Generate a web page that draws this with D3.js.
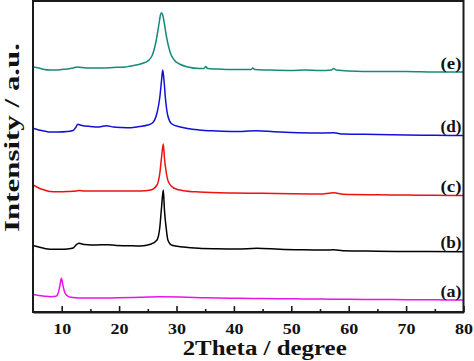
<!DOCTYPE html>
<html>
<head>
<meta charset="utf-8">
<script src="https://cdn.jsdelivr.net/npm/d3@7/dist/d3.min.js"></script>
<style>
  html, body { margin: 0; padding: 0; background: #fff; }
  svg { display: block; }
  text { font-family: "Liberation Serif", "Times New Roman", serif; font-weight: bold; fill: #111; }
</style>
</head>
<body>
<svg id="chart" width="474" height="361"></svg>
<script>
// ---- data (2Theta in degrees, intensity in arbitrary units, curves already offset) ----
const seriesNames = ["(a)", "(b)", "(c)", "(d)", "(e)"];
const seriesColors = ["#ea12ea", "#000000", "#f01010", "#1010d8", "#16897b"];

const seriesA = [[5,17.5],[6,16.5],[7,15.8],[8,15.3],[9.0,15.7],[9.4,19],[9.7,27],[9.95,33.7],[10.2,27],[10.5,20],[10.9,16.5],[11.6,14.7],[13,14],[16.8,14],[20,14.2],[23.7,14.7],[27,15.2],[30.7,15],[35,14.3],[40.6,13.7],[45,13.4],[50,13.2],[55,13],[60,12.7],[65,12.5],[70,12.3],[75,12.2],[80,12]];

const seriesB = [[5,66.5],[6,65],[7,63.5],[8,62.8],[9.8,62.7],[11,63],[12,64],[12.5,67],[13,68.7],[14,67.5],[16,67],[18,67.3],[19.5,66.5],[21.5,66.3],[23.7,66],[25.5,67.7],[26.6,72],[27.1,85],[27.4,105],[27.7,122],[27.9,102],[28.2,84],[28.5,72],[29.2,66.7],[31.2,65],[33.9,63.7],[37,63.2],[40.6,63],[44,63.7],[48,62.7],[52,62.2],[55.5,62],[57.4,62.2],[59,61.2],[65,60.8],[70,60.5],[80,60.3]];

const seriesC = [[5,127],[6,124],[7,122],[8,120.5],[9.3,120.3],[11,120.5],[12.5,121],[13,121.5],[14,121],[17,121],[20,121],[23.7,121],[25.5,122],[26.6,127],[27.1,139],[27.4,155],[27.7,168],[27.9,154],[28.2,140],[28.6,130],[29.5,124],[31.2,121.3],[34,120],[40,119],[45,118.7],[50,118.2],[55,118],[57.4,119.2],[59,117.7],[65,117.2],[70,117],[75,116.7],[80,116.5]];

const seriesD = [[5,183.7],[6,182],[7,181],[8,180],[9.3,180],[11,180.5],[12,181.5],[12.5,185],[12.8,187.7],[13.5,186.5],[15,185.5],[16.5,185],[17.8,186.3],[19,185],[20.5,184.5],[22,184.3],[23.5,185.5],[25,187],[25.8,189],[26.6,199],[27.1,215],[27.4,232],[27.6,242],[27.8,233],[28.1,212],[28.5,196],[29.2,188],[30.7,185],[33.9,182],[37,181],[40,180.5],[44,181.2],[47,180.2],[50,179.5],[54,179],[57.4,179.2],[59,178],[65,177.5],[70,177],[75,176.7],[80,176.5]];

const seriesE = [[5,245],[6,244],[7,242.5],[8,242],[9,242],[10,242.5],[11,243],[12,244],[12.7,245],[13.5,244.5],[15,244],[17,244],[19,244.5],[21,245],[22,246],[23,247],[24,248.5],[25,251],[25.8,257],[26.3,267],[26.7,279],[27.0,290],[27.2,297],[27.4,299.3],[27.6,297],[27.9,288],[28.2,277],[28.6,266],[29.0,258],[29.6,252],[30.5,248],[32,245],[34,243.5],[34.8,243.5],[35.1,245.5],[35.4,243.5],[37,243],[40,242.5],[43,242.5],[43.3,244],[43.6,242.5],[46,242],[50,241.5],[52.4,242],[55,241.5],[57,242],[57.4,243.5],[57.8,242],[60,241],[65,240.5],[70,240.5],[75,240],[80,240]];

const seriesData = [seriesA, seriesB, seriesC, seriesD, seriesE];
const xMajorTicks = [10, 20, 30, 40, 50, 60, 70, 80];
const xMinorTicks = [15, 25, 35, 45, 55, 65, 75];
const xTitle = "2Theta / degree";
const yTitle = "Intensity / a.u.";

// ---- layout ----
const svg = d3.select("#chart");
const L = 33, R = 463.5, T = 1, B = 312;
const x = d3.scaleLinear().domain([5, 80]).range([L, R]);
const y = d3.scaleLinear().domain([0, 311]).range([B, T]);

const line = d3.line().x(d => x(d[0])).y(d => y(d[1])).curve(d3.curveMonotoneX);

const plot = svg.append("g");
plot.append("defs").append("clipPath").attr("id", "clip")
  .append("rect").attr("x", L).attr("y", T).attr("width", R - L).attr("height", B - T);

seriesData.forEach((s, i) => {
  plot.append("path")
    .attr("d", line(s))
    .attr("fill", "none")
    .attr("stroke", seriesColors[i])
    .attr("stroke-width", 1.5)
    .attr("stroke-linejoin", "round")
    .attr("clip-path", "url(#clip)");
  const last = s[s.length - 1];
  svg.append("text")
    .attr("x", 461.5)
    .attr("y", y(last[1]) - 3.5)
    .attr("text-anchor", "end")
    .attr("font-size", 16)
    .attr("textLength", 21)
    .attr("lengthAdjust", "spacingAndGlyphs")
    .text(seriesNames[i]);
});

// frame
svg.append("rect")
  .attr("x", L).attr("y", T).attr("width", R - L).attr("height", B - T)
  .attr("fill", "none").attr("stroke", "#1a1a1a").attr("stroke-width", 2);

// x axis (ticks pointing inward)
const xAxis = d3.axisBottom(x).tickValues(xMajorTicks).tickSizeInner(-6).tickSizeOuter(0).tickPadding(11.5);
const gx = svg.append("g").attr("transform", `translate(0,${B})`).call(xAxis);
gx.select(".domain").attr("stroke", "#1a1a1a").attr("stroke-width", 2);
gx.selectAll(".tick line").attr("stroke", "#1a1a1a").attr("stroke-width", 1.6);
gx.selectAll(".tick text")
  .attr("font-size", 15)
  .attr("font-family", "Liberation Serif, serif")
  .attr("font-weight", "bold")
  .attr("fill", "#111")
  .attr("textLength", 18)
  .attr("lengthAdjust", "spacingAndGlyphs");

const xMinor = d3.axisBottom(x).tickValues(xMinorTicks).tickSizeInner(-3).tickSizeOuter(0).tickFormat("");
const gm = svg.append("g").attr("transform", `translate(0,${B})`).call(xMinor);
gm.select(".domain").remove();
gm.selectAll(".tick line").attr("stroke", "#1a1a1a").attr("stroke-width", 1.6);

// titles
svg.append("text")
  .attr("x", 264.7).attr("y", 355)
  .attr("text-anchor", "middle")
  .attr("font-size", 20)
  .attr("textLength", 164)
  .attr("lengthAdjust", "spacingAndGlyphs")
  .text(xTitle);

svg.append("text")
  .attr("transform", "translate(18.5,137.5) rotate(-90)")
  .attr("text-anchor", "middle")
  .attr("font-size", 21)
  .attr("textLength", 189)
  .attr("lengthAdjust", "spacingAndGlyphs")
  .text(yTitle);
</script>
</body>
</html>
